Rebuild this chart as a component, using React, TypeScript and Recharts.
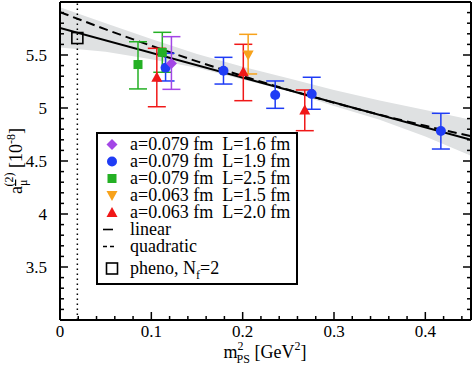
import {
  Area,
  ComposedChart,
  ErrorBar,
  Line,
  ReferenceLine,
  Scatter,
  XAxis,
  YAxis,
} from 'recharts';

const FONT = '"Liberation Serif", "Times New Roman", "DejaVu Serif", serif';

// axis ticks (minor + major), labels only on the majors
const xTicks = [
  0, 0.02, 0.04, 0.06, 0.08, 0.1, 0.12, 0.14, 0.16, 0.18, 0.2, 0.22, 0.24,
  0.26, 0.28, 0.3, 0.32, 0.34, 0.36, 0.38, 0.4, 0.42, 0.44,
];
const xLabels = [0, 0.1, 0.2, 0.3, 0.4];
const yTicks = [
  3.0, 3.1, 3.2, 3.3, 3.4, 3.5, 3.6, 3.7, 3.8, 3.9, 4.0, 4.1, 4.2, 4.3, 4.4,
  4.5, 4.6, 4.7, 4.8, 4.9, 5.0, 5.1, 5.2, 5.3, 5.4, 5.5, 5.6, 5.7, 5.8, 5.9,
  6.0,
];
const yLabels = [3.5, 4, 4.5, 5, 5.5];

// lattice points: m_PS^2, value, upper and lower end of the error bar
const purpleX = [0.122];
const purpleY = [5.42];
const purpleHi = [5.673];
const purpleLo = [5.176];

const blueX = [0.1156, 0.179, 0.2356, 0.2756, 0.417];
const blueY = [5.38, 5.352, 5.123, 5.132, 4.783];
const blueHi = [5.516, 5.478, 5.255, 5.29, 4.95];
const blueLo = [5.255, 5.226, 4.997, 4.988, 4.613];

const greenX = [0.0854, 0.112];
const greenY = [5.41, 5.525];
const greenHi = [5.625, 5.714];
const greenLo = [5.18, 5.337];

const orangeX = [0.206];
const orangeY = [5.5];
const orangeHi = [5.695];
const orangeLo = [5.321];

const redX = [0.106, 0.2007, 0.268];
const redY = [5.29, 5.343, 4.981];
const redHi = [5.563, 5.601, 5.17];
const redLo = [5.012, 5.069, 4.786];

const phenoX = [0.019];
const phenoY = [5.66];
const physMass = 0.019;

// fits
const linearX = [0, 0.45];
const linearY = [5.755, 4.7];
const fitX = [0, 0.05, 0.1, 0.15, 0.2, 0.25, 0.3, 0.35, 0.4, 0.45];
const quadY = [5.905, 5.742, 5.587, 5.44, 5.302, 5.172, 5.05, 4.937, 4.832, 4.735];
const bandLo = [5.57, 5.53, 5.46, 5.38, 5.27, 5.16, 5.02, 4.89, 4.73, 4.55];
const bandHi = [5.95, 5.8, 5.65, 5.51, 5.39, 5.28, 5.17, 5.07, 4.98, 4.89];

const COLORS = {
  purple: '#a346e6',
  blue: '#1f3cf5',
  green: '#24b024',
  orange: '#f7a21b',
  red: '#f01818',
};

const points = (xs: number[], ys: number[], hi: number[], lo: number[]) =>
  xs.map((x, i) => ({ x, y: ys[i], err: [ys[i] - lo[i], hi[i] - ys[i]] }));

const purpleData = points(purpleX, purpleY, purpleHi, purpleLo);
const blueData = points(blueX, blueY, blueHi, blueLo);
const greenData = points(greenX, greenY, greenHi, greenLo);
const orangeData = points(orangeX, orangeY, orangeHi, orangeLo);
const redData = points(redX, redY, redHi, redLo);
const phenoData = phenoX.map((x, i) => ({ x, y: phenoY[i] }));
const linearData = linearX.map((x, i) => ({ x, y: linearY[i] }));
const quadData = fitX.map((x, i) => ({ x, y: quadY[i] }));
const bandData = fitX.map((x, i) => ({ x, band: [bandLo[i], bandHi[i]] }));

type Kind = 'diamond' | 'circle' | 'square' | 'tri' | 'triDown' | 'open';

function Marker({ kind, cx, cy, color }: { kind: Kind; cx: number; cy: number; color: string }) {
  if (kind === 'circle') return <circle cx={cx} cy={cy} r={5} fill={color} />;
  if (kind === 'square') return <rect x={cx - 4.5} y={cy - 4.5} width={9} height={9} fill={color} />;
  if (kind === 'open')
    return <rect x={cx - 5.5} y={cy - 5.5} width={11} height={11} fill='none' stroke='#000' strokeWidth={1.6} />;
  let pts = '';
  if (kind === 'diamond') pts = `${cx},${cy - 5.5} ${cx + 5.5},${cy} ${cx},${cy + 5.5} ${cx - 5.5},${cy}`;
  if (kind === 'tri') pts = `${cx},${cy - 5.5} ${cx + 5.5},${cy + 4.5} ${cx - 5.5},${cy + 4.5}`;
  if (kind === 'triDown') pts = `${cx},${cy + 5.5} ${cx + 5.5},${cy - 4.5} ${cx - 5.5},${cy - 4.5}`;
  return <polygon points={pts} fill={color} />;
}

const isMajor = (v: number, labels: number[]) => labels.some(l => Math.abs(l - v) < 1e-6);

// inward ticks; side tells which frame edge we're on
function makeTick(side: 'bottom' | 'top' | 'left' | 'right', labels: number[]) {
  return (props: any) => {
    const { x, y, payload } = props;
    const v = payload.value as number;
    const major = isMajor(v, labels);
    const len = major ? 8 : 4;
    let line;
    if (side === 'bottom') line = <line x1={x} y1={y} x2={x} y2={y - len} />;
    else if (side === 'top') line = <line x1={x} y1={y} x2={x} y2={y + len} />;
    else if (side === 'left') line = <line x1={x} y1={y} x2={x + len} y2={y} />;
    else line = <line x1={x} y1={y} x2={x - len} y2={y} />;
    return (
      <g stroke='#000' strokeWidth={1.5}>
        {line}
        {major && side === 'bottom' && (
          <text x={x} y={y + 17} textAnchor='middle' stroke='none' fill='#000' fontSize={17} fontFamily={FONT}>
            {v}
          </text>
        )}
        {major && side === 'left' && (
          <text x={x - 13} y={y + 5.5} textAnchor='end' stroke='none' fill='#000' fontSize={17} fontFamily={FONT}>
            {v}
          </text>
        )}
      </g>
    );
  };
}

const legendRows: { label: string; kind: Kind | 'solid' | 'dashed'; color: string }[] = [
  { label: 'a=0.079 fm  L=1.6 fm', kind: 'diamond', color: COLORS.purple },
  { label: 'a=0.079 fm  L=1.9 fm', kind: 'circle', color: COLORS.blue },
  { label: 'a=0.079 fm  L=2.5 fm', kind: 'square', color: COLORS.green },
  { label: 'a=0.063 fm  L=1.5 fm', kind: 'triDown', color: COLORS.orange },
  { label: 'a=0.063 fm  L=2.0 fm', kind: 'tri', color: COLORS.red },
  { label: 'linear', kind: 'solid', color: '#000' },
  { label: 'quadratic', kind: 'dashed', color: '#000' },
];

function LegendSymbol({ kind, color }: { kind: Kind | 'solid' | 'dashed'; color: string }) {
  return (
    <svg width={24} height={17} style={{ display: 'block' }}>
      {kind === 'solid' && <line x1={5} y1={8.5} x2={15} y2={8.5} stroke={color} strokeWidth={1.6} />}
      {kind === 'dashed' && (
        <line x1={5} y1={8.5} x2={16} y2={8.5} stroke={color} strokeWidth={1.6} strokeDasharray='4 3' />
      )}
      {kind !== 'solid' && kind !== 'dashed' && <Marker kind={kind} cx={14} cy={8.5} color={color} />}
    </svg>
  );
}

function LegendBox() {
  return (
    <div
      style={{
        position: 'absolute',
        left: 96,
        top: 132,
        width: 202,
        height: 153,
        boxSizing: 'border-box',
        border: '2px solid #000',
        background: '#fff',
        paddingTop: 1.5,
        fontFamily: FONT,
        fontSize: 18,
        color: '#000',
      }}
    >
      {legendRows.map(r => (
        <div key={r.label} style={{ display: 'flex', alignItems: 'center', height: 17, whiteSpace: 'pre' }}>
          <div style={{ width: 32 }}>
            <LegendSymbol kind={r.kind} color={r.color} />
          </div>
          <span style={{ lineHeight: '17px' }}>{r.label}</span>
        </div>
      ))}
      <div style={{ display: 'flex', alignItems: 'center', height: 17, marginTop: 5, whiteSpace: 'pre' }}>
        <div style={{ width: 32 }}>
          <LegendSymbol kind='open' color='#000' />
        </div>
        <span style={{ lineHeight: '17px' }}>
          pheno, N<sub style={{ fontSize: 12, lineHeight: 0 }}>f</sub>=2
        </span>
      </div>
    </div>
  );
}

const yAxisLabel = () => (
  <text transform='rotate(-90)' x={-161} y={22} textAnchor='middle' fontSize={18} fontFamily={FONT} fill='#000'>
    a
    <tspan dy={5} fontSize={12} textDecoration='overline'>μ</tspan>
    <tspan dx={-7} dy={-14} fontSize={12}>(2)</tspan>
    <tspan dy={9}> [10</tspan>
    <tspan dy={-7} fontSize={12}>-8</tspan>
    <tspan dy={7}>]</tspan>
  </text>
);

const xAxisLabel = () => (
  <text x={265} y={358} textAnchor='middle' fontSize={18} fontFamily={FONT} fill='#000'>
    m
    <tspan dy={-8} fontSize={12}>2</tspan>
    <tspan dx={-7} dy={13} fontSize={12}>PS</tspan>
    <tspan dy={-5}> [GeV</tspan>
    <tspan dy={-8} fontSize={12}>2</tspan>
    <tspan dy={8}>]</tspan>
  </text>
);

export default function App() {
  document.body.style.margin = '0';
  return (
    <div style={{ position: 'relative', width: 474, height: 367, background: '#fff' }}>
      <ComposedChart width={474} height={367} margin={{ top: 0, right: 0, bottom: 0, left: 0 }}>
        <XAxis
          dataKey='x'
          type='number'
          domain={[0, 0.45]}
          ticks={xTicks}
          interval={0}
          allowDataOverflow
          height={47}
          tickSize={0}
          tickMargin={0}
          tick={makeTick('bottom', xLabels)}
          axisLine={{ stroke: '#000', strokeWidth: 2 }}
          label={xAxisLabel}
        />
        <XAxis
          xAxisId='top'
          orientation='top'
          type='number'
          domain={[0, 0.45]}
          ticks={xTicks}
          interval={0}
          allowDataOverflow
          height={2}
          tickSize={0}
          tickMargin={0}
          tick={makeTick('top', xLabels)}
          axisLine={{ stroke: '#000', strokeWidth: 2 }}
        />
        <YAxis
          type='number'
          domain={[3, 6]}
          ticks={yTicks}
          interval={0}
          allowDataOverflow
          width={60}
          tickSize={0}
          tickMargin={0}
          tick={makeTick('left', yLabels)}
          axisLine={{ stroke: '#000', strokeWidth: 2 }}
          label={yAxisLabel}
        />
        <YAxis
          yAxisId='right'
          orientation='right'
          type='number'
          domain={[3, 6]}
          ticks={yTicks}
          interval={0}
          allowDataOverflow
          width={3}
          tickSize={0}
          tickMargin={0}
          tick={makeTick('right', yLabels)}
          axisLine={{ stroke: '#000', strokeWidth: 2 }}
        />
        <Area
          data={bandData}
          dataKey='band'
          type='linear'
          fill='#dfe1e2'
          fillOpacity={1}
          stroke='none'
          isAnimationActive={false}
        />
        <ReferenceLine x={physMass} stroke='#000' strokeWidth={1.5} strokeDasharray='1.5 3.5' />
        <Line
          data={linearData}
          dataKey='y'
          type='linear'
          stroke='#000'
          strokeWidth={2}
          dot={false}
          isAnimationActive={false}
        />
        <Line
          data={quadData}
          dataKey='y'
          type='monotone'
          stroke='#000'
          strokeWidth={2}
          strokeDasharray='9 5'
          dot={false}
          isAnimationActive={false}
        />
        <Scatter
          data={blueData}
          dataKey='y'
          isAnimationActive={false}
          shape={(p: any) => <Marker kind='circle' cx={p.cx} cy={p.cy} color={COLORS.blue} />}
        >
          <ErrorBar dataKey='err' direction='y' width={9} strokeWidth={1.5} stroke={COLORS.blue} />
        </Scatter>
        <Scatter
          data={greenData}
          dataKey='y'
          isAnimationActive={false}
          shape={(p: any) => <Marker kind='square' cx={p.cx} cy={p.cy} color={COLORS.green} />}
        >
          <ErrorBar dataKey='err' direction='y' width={9} strokeWidth={1.5} stroke={COLORS.green} />
        </Scatter>
        <Scatter
          data={redData}
          dataKey='y'
          isAnimationActive={false}
          shape={(p: any) => <Marker kind='tri' cx={p.cx} cy={p.cy} color={COLORS.red} />}
        >
          <ErrorBar dataKey='err' direction='y' width={9} strokeWidth={1.5} stroke={COLORS.red} />
        </Scatter>
        <Scatter
          data={orangeData}
          dataKey='y'
          isAnimationActive={false}
          shape={(p: any) => <Marker kind='triDown' cx={p.cx} cy={p.cy} color={COLORS.orange} />}
        >
          <ErrorBar dataKey='err' direction='y' width={9} strokeWidth={1.5} stroke={COLORS.orange} />
        </Scatter>
        <Scatter
          data={purpleData}
          dataKey='y'
          isAnimationActive={false}
          shape={(p: any) => <Marker kind='diamond' cx={p.cx} cy={p.cy} color={COLORS.purple} />}
        >
          <ErrorBar dataKey='err' direction='y' width={9} strokeWidth={1.5} stroke={COLORS.purple} />
        </Scatter>
        <Scatter
          data={phenoData}
          dataKey='y'
          isAnimationActive={false}
          shape={(p: any) => <Marker kind='open' cx={p.cx} cy={p.cy} color='#000' />}
        />
      </ComposedChart>
      <LegendBox />
    </div>
  );
}
